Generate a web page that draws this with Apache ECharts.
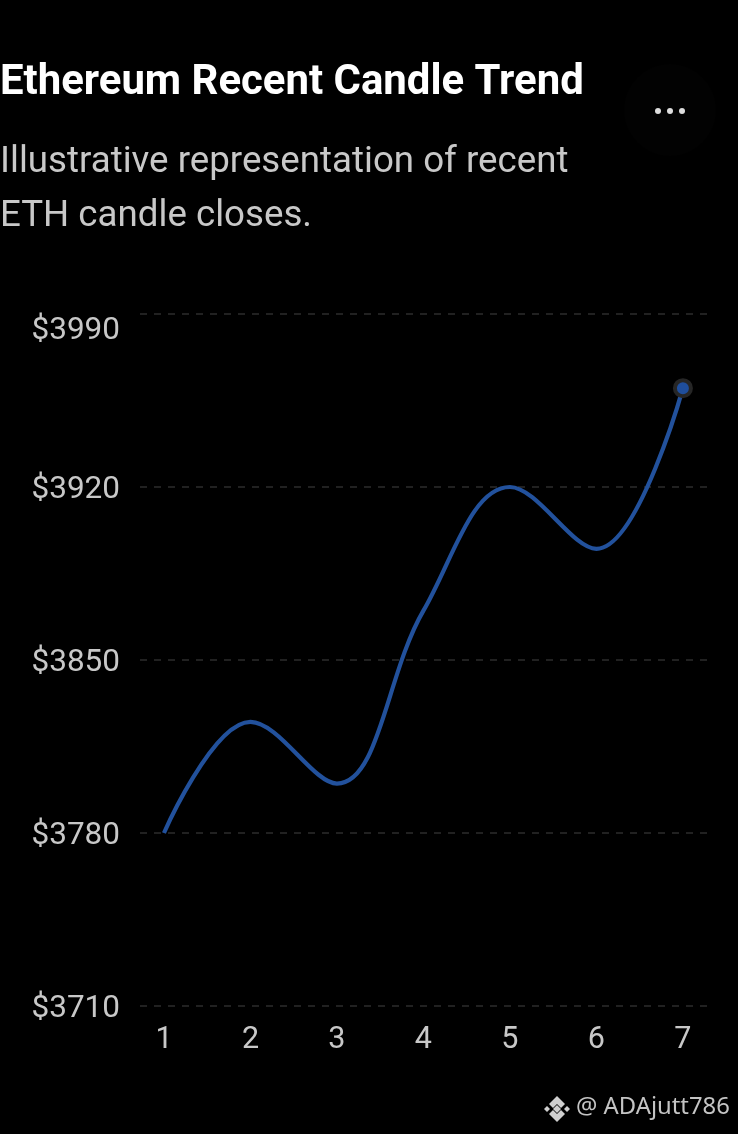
<!DOCTYPE html>
<html><head><meta charset="utf-8">
<style>html,body{margin:0;padding:0;background:#000}#c{width:738px;height:1134px}</style>
<script src="https://cdn.jsdelivr.net/npm/echarts@6/dist/echarts.min.js"></script>
</head><body><div id="c"></div>
<script>
const categories = [1, 2, 3, 4, 5, 6, 7];
const closes = [3780, 3825, 3800, 3870, 3920, 3895, 3960];
const yTicks = [3710, 3780, 3850, 3920, 3990];
const chart = echarts.init(document.getElementById('c'), null, {renderer:'canvas'});
const last = closes.length - 1;
const poly = pts => ({type:'polygon',shape:{points:pts},style:{fill:'#cfcfcf'}});
const labelFont = {color:'#c8c8c8',fontFamily:'Roboto',fontSize:31.5};
chart.setOption({
  backgroundColor:'#000',
  animation:false,
  title:[
    {text:'Ethereum Recent Candle Trend',left:0,top:61,padding:0,textStyle:{color:'#fff',fontFamily:'Roboto',fontWeight:'bold',fontSize:41.9,lineHeight:46}},
    {text:'Illustrative representation of recent\nETH candle closes.',left:0,top:136,padding:0,textStyle:{color:'#c8c8c8',fontFamily:'Roboto',fontWeight:'normal',fontSize:36.7,lineHeight:54}}
  ],
  grid:{left:140,right:30,top:314,bottom:128},
  xAxis:{type:'value',min:0.723,max:7.29,
    axisLine:{show:false},axisTick:{show:false},splitLine:{show:false},
    axisLabel:{customValues:categories,color:'#c8c8c8',fontFamily:'Roboto',fontSize:30.5,margin:19,formatter:v=>String(v)}},
  yAxis:{type:'value',min:3710,max:3990,interval:70,
    axisLine:{show:false},axisTick:{show:false},
    splitLine:{show:true,lineStyle:{color:'#2c2c2c',type:[7,7],width:1.5}},
    axisLabel:{...labelFont,margin:20,
      formatter:v=>yTicks.includes(v)?(v===3990?'{t|$'+v+'}':'{m|$'+v+'}'):'',
      rich:{t:{...labelFont,padding:[34,0,0,0]},m:{...labelFont,padding:[6,0,0,0]}}}},
  series:[{type:'line',smooth:0.38,
    data:closes.map((v,i)=>[categories[i],v]),
    showSymbol:true,symbol:'circle',
    symbolSize:(v,p)=>p.dataIndex===last?16:0,
    itemStyle:{color:'#1f4e9c',borderColor:'#262626',borderWidth:4},
    lineStyle:{color:'#22519c',width:4.2}}],
  graphic:[
    {type:'circle',shape:{cx:670,cy:110,r:46},style:{fill:'#020202'}},
    {type:'circle',shape:{cx:658,cy:111,r:3},style:{fill:'#ddd'}},
    {type:'circle',shape:{cx:670,cy:111,r:3},style:{fill:'#ddd'}},
    {type:'circle',shape:{cx:682,cy:111,r:3},style:{fill:'#ddd'}},
    poly([[557,1096],[565,1104],[561,1108],[557,1104],[553,1108],[549,1104]]),
    poly([[557,1122],[549,1114],[553,1110],[557,1114],[561,1110],[565,1114]]),
    poly([[557,1105],[561,1109],[557,1113],[553,1109]]),
    poly([[547,1106],[550,1109],[547,1112],[544,1109]]),
    poly([[567,1106],[570,1109],[567,1112],[564,1109]]),
    {type:'text',left:576,top:1095,style:{text:'@ ADAjutt786',fill:'#c4c4c4',font:'23.8px "Noto Sans"'}}
  ]
});
</script></body></html>
